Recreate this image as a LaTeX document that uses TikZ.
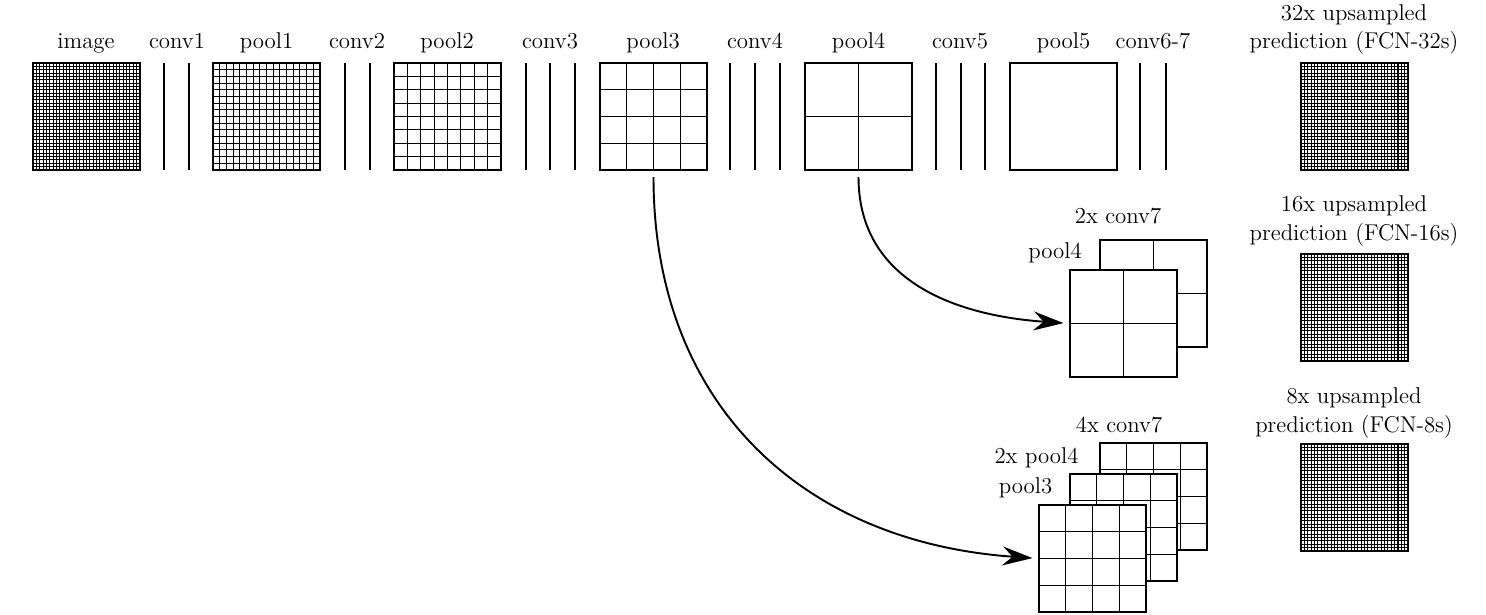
\documentclass[tikz,border=0pt]{standalone}
\usetikzlibrary{arrows.meta,calc}

\begin{document}
\begin{tikzpicture}[>={Stealth[length=6mm,width=3.8mm,inset=2mm]},
  every node/.style={font=\fontsize{13}{16}\selectfont},
  fmap/.style={draw, line width=0.6pt, fill=white, minimum size=2.14cm, inner sep=0pt,
    path picture={\foreach \i in {0,...,#1}{
      \draw[line width=0.6pt] ($(path picture bounding box.south west)!\i/#1!(path picture bounding box.south east)$) -- ++(0,2.14);
      \draw[line width=0.6pt] ($(path picture bounding box.south west)!\i/#1!(path picture bounding box.north west)$) -- ++(2.14,0);
    }}},
  convline/.style={line width=0.6pt},
  lbl/.style={inner sep=0pt, anchor=base},
  skip/.style={->, line width=1.1pt, shorten <=1.3mm, shorten >=1.2mm}]
  \useasboundingbox (0,0) rectangle (29.72,-12.3);

  % Top row: feature maps of the network
  \node[fmap=32] (image)  at (1.73,-2.33)  {};
  \node[fmap=16] (pool1)  at (5.33,-2.33)  {};
  \node[fmap=8]  (pool2)  at (8.95,-2.33)  {};
  \node[fmap=4]  (pool3)  at (13.07,-2.33) {};
  \node[fmap=2]  (pool4)  at (17.17,-2.33) {};
  \node[fmap=1]  (pool5)  at (21.27,-2.33) {};
  \node[fmap=32] (pred32) at (27.09,-2.33) {};

  % Conv layers as thin bars
  \foreach \x in {3.28,3.78, 6.9,7.4, 10.52,11.0,11.5, 14.6,15.1,15.6, 18.72,19.22,19.7, 22.8,23.32}{
    \draw[convline] (\x,-1.26) -- (\x,-3.4);
  }

  % Top row labels
  \foreach \name/\x in {image/1.72, conv1/3.54, pool1/5.33, conv2/7.14, pool2/8.94,
      conv3/11.0, pool3/13.06, conv4/15.1, pool4/17.17, conv5/19.2, pool5/21.27, conv6-7/23.06}{
    \node[lbl] (t-\name) at (\x,-0.98) {\name};
  }
  \node[lbl, align=center] (t-pred32) at (27.08,-0.98) {32x upsampled\\prediction (FCN-32s)};

  % Middle: pool4 + 2x conv7
  \node[fmap=2] (conv7x2) at (23.07,-5.87) {};
  \node[fmap=2] (pool4b)  at (22.47,-6.47) {};
  \node[lbl] (t-conv7x2) at (22.36,-4.46) {2x conv7};
  \node[lbl] (t-pool4b)  at (21.1,-5.16)  {pool4};
  \node[fmap=32] (pred16) at (27.09,-6.15) {};
  \node[lbl, align=center] (t-pred16) at (27.08,-4.8) {16x upsampled\\prediction (FCN-16s)};

  % Bottom: pool3 + 2x pool4 + 4x conv7
  \node[fmap=4] (conv7x4) at (23.07,-9.93)  {};
  \node[fmap=4] (pool4x2) at (22.47,-10.55) {};
  \node[fmap=4] (pool3b)  at (21.85,-11.17) {};
  \node[lbl] (t-conv7x4) at (22.38,-8.64) {4x conv7};
  \node[lbl] (t-pool4x2) at (20.73,-9.26) {2x pool4};
  \node[lbl] (t-pool3b)  at (20.51,-9.87) {pool3};
  \node[fmap=32] (pred8) at (27.09,-9.95) {};
  \node[lbl, align=center] (t-pred8) at (27.08,-8.64) {8x upsampled\\prediction (FCN-8s)};

  % Skip connections
  \draw[skip] (pool3.south) to[out=-90,in=176,looseness=1.1] (pool3b.west);
  \draw[skip] (pool4.south) to[out=-90,in=176,looseness=1.1] (pool4b.west);
\end{tikzpicture}
\end{document}
